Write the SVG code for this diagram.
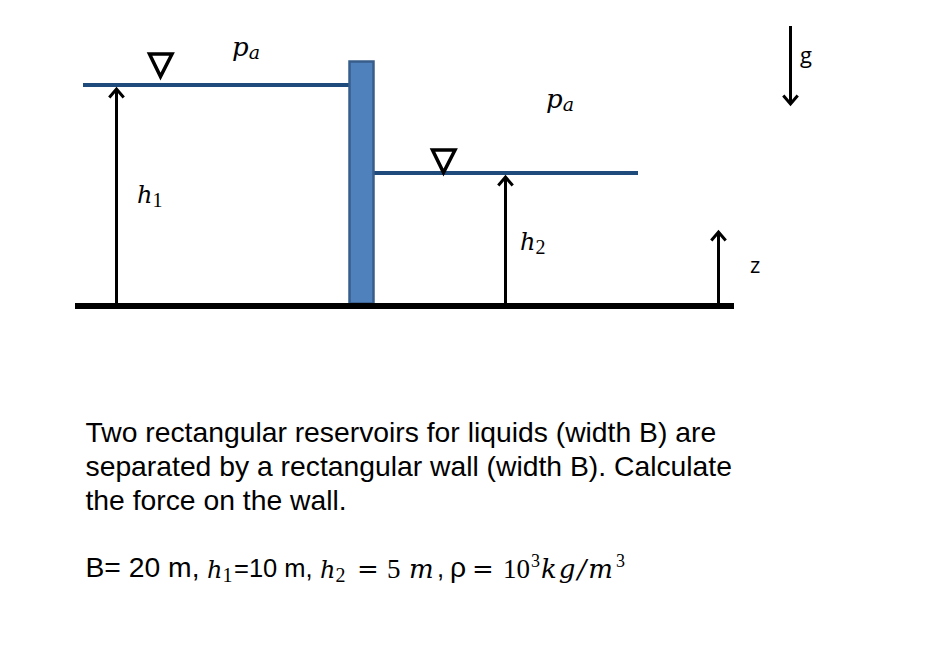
<svg xmlns="http://www.w3.org/2000/svg" width="927" height="660" viewBox="0 0 927 660">
<style>
.water{stroke:#1f4a7c;stroke-width:4;fill:none}
.arrow{stroke:#000;stroke-width:3;fill:none}
.tri{stroke:#000;stroke-width:3.500;fill:#fff}
.math{font-family:"DejaVu Serif","Liberation Serif",serif;font-style:italic;font-size:26px;fill:#000}
.hh{font-size:24px}
.sub{font-size:19px}
.num{font-family:"Liberation Serif",serif;font-size:20px;fill:#000}
.eq{font-family:"DejaVu Serif",serif;font-size:26px;fill:#000}
.dig{font-family:"Liberation Serif",serif;font-size:27px;fill:#000}
.sup{font-family:"Liberation Serif",serif;font-size:18px;fill:#000}
.body{font-family:"Liberation Sans",Arial,sans-serif;font-size:28.3px;fill:#000}
.small{font-family:"Liberation Sans",Arial,sans-serif;font-size:25.500px;fill:#000}
.lab{font-family:"Open Sans","Noto Sans",sans-serif;font-size:22px;fill:#000}
</style>
<defs>
<marker id="head" markerUnits="userSpaceOnUse" markerWidth="24" markerHeight="24" refX="14" refY="12" orient="auto" overflow="visible">
<path d="M5.500 4.800 L14 12 L5.500 19.200" fill="none" stroke="#000" stroke-width="3"/>
</marker>
</defs>
<g id="connectors">
<line class="water" x1="83" y1="85" x2="349" y2="85"/>
<line class="water" x1="374" y1="173" x2="638" y2="173"/>
<line class="arrow" x1="116.500" y1="303" x2="116.500" y2="89" marker-end="url(#head)"/>
<line class="arrow" x1="505.500" y1="303" x2="505.500" y2="177" marker-end="url(#head)"/>
<line class="arrow" x1="718.500" y1="303" x2="718.500" y2="232" marker-end="url(#head)"/>
<line class="arrow" x1="790.500" y1="26" x2="790.500" y2="104" marker-end="url(#head)"/>
</g>
<g id="wall"><rect x="349.500" y="61.500" width="24" height="242" fill="#4f81bd" stroke="#385d8a" stroke-width="2.500"/></g>
<g id="ground"><rect x="75" y="303" width="659" height="6" fill="#000"/></g>
<g id="level-left"><path class="tri" d="M149.500 54 H172 L160.500 76.500 Z"/></g>
<g id="level-right"><path class="tri" d="M432.500 150 H455 L443.500 172.500 Z"/></g>
<g id="labels">
<text class="math" x="232" y="56">p<tspan class="sub" dy="3">a</tspan></text>
<text class="math" x="546" y="108">p<tspan class="sub" dy="3">a</tspan></text>
<text class="math hh" x="137" y="203">h</text><text class="num" x="152.500" y="207">1</text>
<text class="math hh" x="520" y="250">h</text><text class="num" x="535.500" y="254">2</text>
<text class="lab" x="800" y="63">g</text>
<text class="lab" x="750" y="273">z</text>
</g>
<g id="problem">
<text class="body" x="85.500" y="442">Two rectangular reservoirs for liquids (width B) are</text>
<text class="body" x="85.500" y="476">separated by a rectangular wall (width B). Calculate</text>
<text class="body" x="85.500" y="510">the force on the wall.</text>
<text class="body" x="85.500" y="577">B= 20 m,</text>
<text class="math hh" x="207" y="578">h</text><text class="num" x="222.500" y="582">1</text>
<text class="small" x="234" y="577">=10 m,</text>
<text class="math hh" x="320" y="578">h</text><text class="num" x="335.500" y="582">2</text>
<text class="eq" x="357" y="578">=</text>
<text class="dig" x="387" y="578">5</text>
<text class="math" x="409" y="578">m</text>
<text class="small" x="437" y="577">,</text>
<text class="body" x="450" y="577">ρ</text>
<text class="eq" x="472" y="578">=</text>
<text class="dig" x="503" y="578">10</text>
<text class="sup" x="531" y="567">3</text>
<text class="math" x="541" y="578" letter-spacing="2">kg/m</text>
<text class="sup" x="616" y="567">3</text>
</g>
</svg>
